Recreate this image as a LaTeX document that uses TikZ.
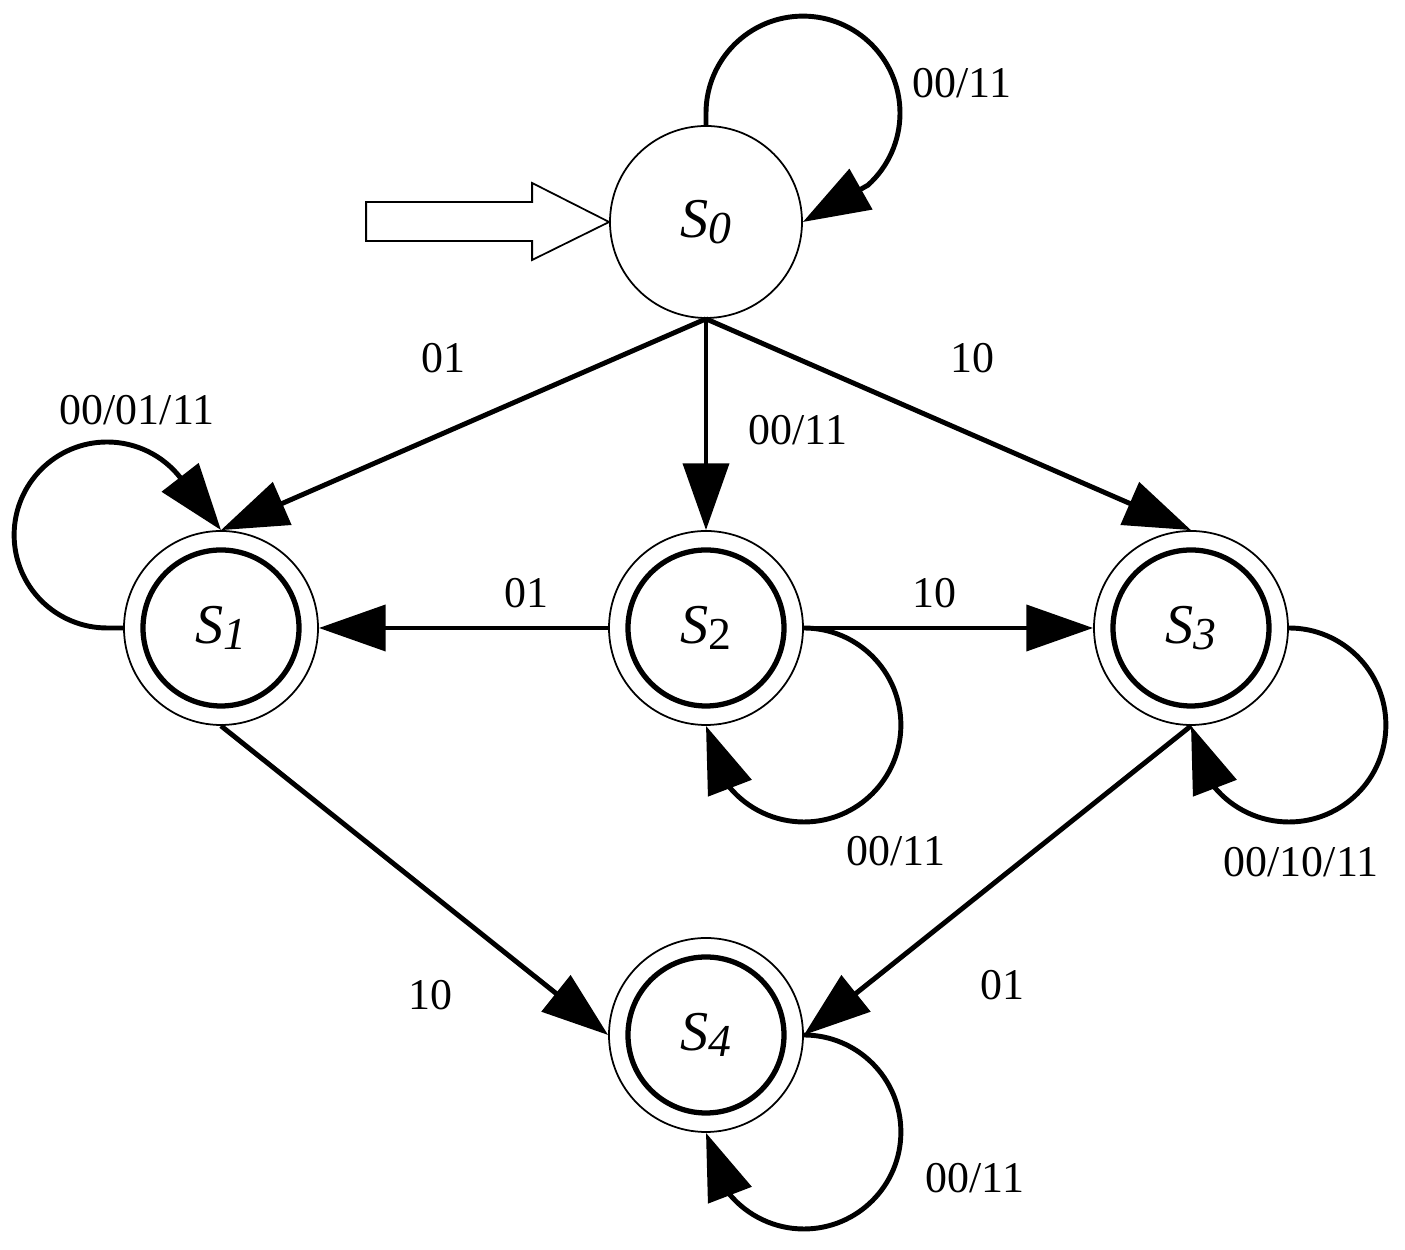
\documentclass[tikz,border=0pt]{standalone}
\usepackage{fontspec}
\setmainfont{Liberation Serif}
\usetikzlibrary{arrows.meta}

\newcommand{\sname}[1]{\textit{S}\raisebox{-1.9pt}{\fontsize{13}{13}\selectfont #1}}

\tikzset{
  state/.style={circle,draw,line width=0.5pt,minimum size=1.94cm,inner sep=0pt,
    font=\fontsize{16}{16}\selectfont},
  ring/.style={line width=1.5pt},
  trans/.style={line width=1.4pt,-{Triangle[length=19pt,width=13pt]}},
  lbl/.style={font=\fontsize{12.5}{12.5}\selectfont}
}

\begin{document}
\begin{tikzpicture}
  \useasboundingbox (0,0) rectangle (14.05,12.5);
  % states
  \node[state,minimum size=1.92cm] (s0) at (7.06,10.28) {\sname{\textit{0}}};
  \node[state] (s1) at (2.21,6.22) {\sname{\textit{1}}};
  \node[state] (s2) at (7.06,6.22) {\sname{2}};
  \node[state] (s3) at (11.91,6.22) {\sname{\textit{3}}};
  \node[state] (s4) at (7.06,2.15) {\sname{\textit{4}}};
  \foreach \n in {s1,s2,s3,s4}
    \draw[ring] (\n) circle (0.78);
  % start arrow
  \draw[line width=0.5pt] (s0.west) -- ++(-0.77,0.39) -- ++(0,-0.19) -- ++(-1.66,0)
    -- ++(0,-0.39) -- ++(1.66,0) -- ++(0,-0.19) -- cycle;
  % transitions
  \draw[trans] (s0.south) -- (s1.north);
  \draw[trans] (s0.south) -- (s2.north);
  \draw[trans] (s0.south) -- (s3.north);
  \draw[trans] (s2.west) -- (s1.east);
  \draw[trans] (s2.east) -- (s3.west);
  \draw[trans] (s1.south) -- (s4.west);
  \draw[trans] (s3.south) -- (s4.east);
  % self loops
  \draw[trans] (s0.north) -- ++(0,0.12) arc[start angle=180,end angle=-48,radius=0.97]
    -- (s0.east);
  \draw[trans] (s1.west) -- ++(-0.16,0) arc[start angle=270,end angle=38,radius=0.93]
    -- (s1.north);
  \foreach \n in {s2,s3,s4}
    \draw[trans] (\n.east) arc[start angle=90,end angle=-140,radius=0.97] -- (\n.south);
  % labels
  \node[lbl] (l00) at (9.62,11.67) {00/11};
  \node[lbl] (l01) at (4.43,8.92) {01};
  \node[lbl] (l02) at (7.98,8.20) {00/11};
  \node[lbl] (l03) at (9.72,8.92) {10};
  \node[lbl] (l11) at (1.37,8.40) {00/01/11};
  \node[lbl] (l21) at (5.26,6.57) {01};
  \node[lbl] (l23) at (9.34,6.57) {10};
  \node[lbl] (l22) at (8.96,3.99) {00/11};
  \node[lbl] (l33) at (13.01,3.88) {00/10/11};
  \node[lbl] (l14) at (4.30,2.55) {10};
  \node[lbl] (l34) at (10.02,2.65) {01};
  \node[lbl] (l44) at (9.75,0.72) {00/11};
\end{tikzpicture}
\end{document}
